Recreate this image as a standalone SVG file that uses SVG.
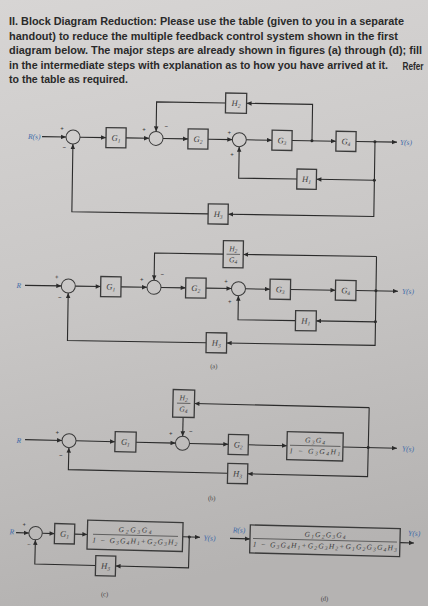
<svg xmlns="http://www.w3.org/2000/svg" width="428" height="606" viewBox="0 0 428 606">
<defs>
<linearGradient id="bg" x1="0" y1="0" x2="0.15" y2="1">
<stop offset="0" stop-color="#d7d5d4"/>
<stop offset="0.5" stop-color="#c9c7c6"/>
<stop offset="1" stop-color="#b5b3b2"/>
</linearGradient>
<marker id="ah" viewBox="0 0 10 10" refX="10" refY="5" markerWidth="5.5" markerHeight="5" markerUnits="userSpaceOnUse" orient="auto">
<path d="M0,0.5 L10,5 L0,9.5 z" fill="#2b2b2b"/>
</marker>
<style>
.ln{stroke:#2b2b2b;stroke-width:1.1;fill:none}
.ar{stroke:#2b2b2b;stroke-width:1.1;fill:none;marker-end:url(#ah)}
.bx{fill:none;stroke:#3a3a3a;stroke-width:1.3}
.sj{fill:none;stroke:#3a3a3a;stroke-width:1}
.dot{fill:#2b2b2b}
.lbl{font-family:"Liberation Serif",serif;font-style:italic;font-size:8.5px;fill:#3a3a3a;text-anchor:middle}
.fr{font-family:"Liberation Serif",serif;font-style:italic;font-size:7.5px;fill:#3a3a3a;text-anchor:middle}
.sub{font-size:5.5px}
.io{font-family:"Liberation Serif",serif;font-style:italic;font-size:7.5px;fill:#3d69a8}
.sg{font-family:"Liberation Sans",sans-serif;font-size:6px;fill:#333;text-anchor:middle}
.cap{font-family:"Liberation Serif",serif;font-size:6.5px;fill:#444;text-anchor:middle}
.hd{font-family:"Liberation Sans",sans-serif;font-weight:bold;font-size:10.6px;fill:#2a2a2a}
.bar{stroke:#3a3a3a;stroke-width:0.7}
</style>
</defs>
<rect x="0" y="0" width="428" height="606" fill="url(#bg)"/>

<g id="heading">
<text class="hd" x="9" y="25" textLength="395" lengthAdjust="spacingAndGlyphs">II. Block Diagram Reduction: Please use the table (given to you in a separate</text>
<text class="hd" x="9" y="39.6" textLength="389" lengthAdjust="spacingAndGlyphs">handout) to reduce the multiple feedback control system shown in the first</text>
<text class="hd" x="9" y="54.3" textLength="413" lengthAdjust="spacingAndGlyphs">diagram below. The major steps are already shown in figures (a) through (d); fill</text>
<text class="hd" x="9" y="69" textLength="379" lengthAdjust="spacingAndGlyphs">in the intermediate steps with explanation as to how you have arrived at it.</text>
<text class="hd" x="402.5" y="70.3" textLength="21" lengthAdjust="spacingAndGlyphs">Refer</text>
<text class="hd" x="9" y="83.2" textLength="119" lengthAdjust="spacingAndGlyphs">to the table as required.</text>
</g>

<!-- Diagram 1 -->
<g id="diagram1" transform="rotate(0.9 214 140)">
<g id="d1-connectors">
<path class="ar" d="M42,139.3 H66"/>
<path class="ar" d="M80,139.3 H106"/>
<path class="ar" d="M126,139.3 H149"/>
<path class="ar" d="M163,139.3 H188"/>
<path class="ar" d="M208,139.3 H232.3"/>
<path class="ar" d="M246.3,139.3 H272"/>
<path class="ar" d="M292,139.3 H336"/>
<path class="ar" d="M356,139.3 H397"/>
<path class="ar" d="M312,139.3 V102.8 H246"/>
<path class="ar" d="M225,102.8 H156 V132.3"/>
<path class="ar" d="M375,139.3 V214 H229.3"/>
<path class="ar" d="M375,177.7 H317"/>
<path class="ar" d="M297.5,177.7 H239.3 V146.3"/>
<path class="ar" d="M209.3,214 H73 V146.3"/>
<circle class="dot" cx="312" cy="139.3" r="1.5"/>
<circle class="dot" cx="375" cy="139.3" r="1.5"/>
<circle class="dot" cx="375" cy="177.7" r="1.5"/>
</g>
<g id="d1-R"><text class="io" x="28" y="142">R(s)</text></g>
<g id="d1-Y"><text class="io" x="400" y="142">Y(s)</text></g>
<g id="d1-sum1"><circle class="sj" cx="73" cy="139.3" r="7"/><text class="sg" x="62" y="132.8">+</text><text class="sg" x="64.5" y="152">−</text></g>
<g id="d1-G1"><rect class="bx" x="106" y="129.3" width="20" height="20"/><text class="lbl" x="116" y="142.3">G<tspan class="sub" dy="1.6">1</tspan></text></g>
<g id="d1-sum2"><circle class="sj" cx="156" cy="139.3" r="7"/><text class="sg" x="144" y="132.6">+</text><text class="sg" x="166" y="129.5">−</text></g>
<g id="d1-G2"><rect class="bx" x="188" y="129.3" width="20" height="20"/><text class="lbl" x="198" y="142.3">G<tspan class="sub" dy="1.6">2</tspan></text></g>
<g id="d1-sum3"><circle class="sj" cx="239.3" cy="139.3" r="7"/><text class="sg" x="229.3" y="134.5">+</text><text class="sg" x="232.3" y="156.2">+</text></g>
<g id="d1-G3"><rect class="bx" x="272" y="129.3" width="20" height="20"/><text class="lbl" x="282" y="142.3">G<tspan class="sub" dy="1.6">3</tspan></text></g>
<g id="d1-G4"><rect class="bx" x="336" y="129.3" width="20" height="20"/><text class="lbl" x="346" y="142.3">G<tspan class="sub" dy="1.6">4</tspan></text></g>
<g id="d1-H2"><rect class="bx" x="225" y="92.8" width="21" height="20"/><text class="lbl" x="235.5" y="105.8">H<tspan class="sub" dy="1.6">2</tspan></text></g>
<g id="d1-H1"><rect class="bx" x="297.5" y="167.7" width="19.5" height="20"/><text class="lbl" x="307.2" y="180.7">H<tspan class="sub" dy="1.6">1</tspan></text></g>
<g id="d1-H3"><rect class="bx" x="209.3" y="204" width="20" height="20"/><text class="lbl" x="219.3" y="217">H<tspan class="sub" dy="1.6">3</tspan></text></g>
</g>

<!-- Diagram (a) -->
<g id="diagramA" transform="rotate(0.9 214 288)">
<g id="da-connectors">
<path class="ar" d="M25,288.3 H61.3"/>
<path class="ar" d="M75.3,288.3 H100.7"/>
<path class="ar" d="M121,288.3 H147"/>
<path class="ar" d="M161,288.3 H185.7"/>
<path class="ar" d="M206,288.3 H231.5"/>
<path class="ar" d="M245.5,288.3 H270"/>
<path class="ar" d="M290.5,288.3 H335.5"/>
<path class="ar" d="M356,288.3 H398"/>
<path class="ar" d="M376,254 H242.7"/>
<path class="ar" d="M222.7,254 H154 V281.3"/>
<path class="ar" d="M376,254 V342.8 H227.5"/>
<path class="ar" d="M376,319.3 H316.7"/>
<path class="ar" d="M296,319.3 H238.5 V295.3"/>
<path class="ar" d="M207,342.8 H68.3 V295.3"/>
<circle class="dot" cx="376" cy="288.3" r="1.5"/>
<circle class="dot" cx="376" cy="319.3" r="1.5"/>
</g>
<g id="da-R"><text class="io" x="16.5" y="291">R</text></g>
<g id="da-Y"><text class="io" x="402" y="291">Y(s)</text></g>
<g id="da-sum1"><circle class="sj" cx="68.3" cy="288.3" r="7"/><text class="sg" x="56.7" y="281.4">+</text><text class="sg" x="60" y="301.9">−</text></g>
<g id="da-G1"><rect class="bx" x="100.7" y="278.3" width="20.3" height="20"/><text class="lbl" x="110.8" y="291.3">G<tspan class="sub" dy="1.6">1</tspan></text></g>
<g id="da-sum2"><circle class="sj" cx="154" cy="288.3" r="7"/><text class="sg" x="141.7" y="282.6">+</text><text class="sg" x="162" y="277">−</text></g>
<g id="da-H2G4"><rect class="bx" x="222.7" y="240.5" width="20" height="27"/><text class="fr" x="232.7" y="251">H<tspan class="sub" dy="1.4">2</tspan></text><line class="bar" x1="226" y1="254" x2="239.5" y2="254"/><text class="fr" x="232.7" y="262">G<tspan class="sub" dy="1.4">4</tspan></text></g>
<g id="da-G2"><rect class="bx" x="185.7" y="278.3" width="20.3" height="20"/><text class="lbl" x="195.8" y="291.3">G<tspan class="sub" dy="1.6">2</tspan></text></g>
<g id="da-sum3"><circle class="sj" cx="238.5" cy="288.3" r="7"/><text class="sg" x="226" y="283.1">+</text><text class="sg" x="230" y="303.5">+</text></g>
<g id="da-G3"><rect class="bx" x="270" y="278.3" width="20.5" height="20"/><text class="lbl" x="280.2" y="291.3">G<tspan class="sub" dy="1.6">3</tspan></text></g>
<g id="da-G4"><rect class="bx" x="335.5" y="278.3" width="20.5" height="20"/><text class="lbl" x="345.7" y="291.3">G<tspan class="sub" dy="1.6">4</tspan></text></g>
<g id="da-H1"><rect class="bx" x="296" y="309.3" width="20.7" height="20"/><text class="lbl" x="306.3" y="322.3">H<tspan class="sub" dy="1.6">1</tspan></text></g>
<g id="da-H3"><rect class="bx" x="207" y="332.8" width="20.5" height="20"/><text class="lbl" x="217.2" y="345.8">H<tspan class="sub" dy="1.6">3</tspan></text></g>
<text class="cap" x="215" y="368.3">(a)</text>
</g>

<!-- Diagram (b) -->
<g id="diagramB" transform="rotate(1.33 214 444)">
<g id="db-connectors">
<path class="ar" d="M25,444 H62"/>
<path class="ar" d="M76,444 H115"/>
<path class="ar" d="M136,444 H175.5"/>
<path class="ar" d="M189.5,444 H228.3"/>
<path class="ar" d="M248.3,444 H287"/>
<path class="ar" d="M343,444 H397"/>
<path class="ar" d="M368.3,404 H193.5"/>
<path class="ar" d="M182.5,418 V437"/>
<path class="ar" d="M368.3,404 V473 H248.3"/>
<path class="ar" d="M228.3,473 H69 V451"/>
<circle class="dot" cx="368.3" cy="444" r="1.5"/>
</g>
<g id="db-R"><text class="io" x="16.5" y="447.5">R</text></g>
<g id="db-Y"><text class="io" x="402" y="447">Y(s)</text></g>
<g id="db-sum1"><circle class="sj" cx="69" cy="444" r="7"/><text class="sg" x="57" y="438.2">+</text><text class="sg" x="61" y="461">−</text></g>
<g id="db-G1"><rect class="bx" x="115" y="434" width="21" height="20"/><text class="lbl" x="125.5" y="447">G<tspan class="sub" dy="1.6">1</tspan></text></g>
<g id="db-sum2"><circle class="sj" cx="182.5" cy="444" r="7"/><text class="sg" x="170.5" y="436.5">+</text><text class="sg" x="190.5" y="434">−</text></g>
<g id="db-H2G4"><rect class="bx" x="172" y="390.5" width="21.5" height="27.5"/><text class="fr" x="182.7" y="401">H<tspan class="sub" dy="1.4">2</tspan></text><line class="bar" x1="176" y1="404" x2="189.5" y2="404"/><text class="fr" x="182.7" y="412.3">G<tspan class="sub" dy="1.4">4</tspan></text></g>
<g id="db-G2"><rect class="bx" x="228.3" y="434" width="20" height="20"/><text class="lbl" x="238.3" y="447">G<tspan class="sub" dy="1.6">2</tspan></text></g>
<g id="db-G34"><rect class="bx" x="287" y="430" width="56" height="28"/><text class="fr" x="315" y="440.5" textLength="20">G<tspan class="sub" dy="1.4">3</tspan><tspan dy="-1.4">G</tspan><tspan class="sub" dy="1.4">4</tspan></text><line class="bar" x1="290" y1="443.5" x2="340.5" y2="443.5"/><text class="fr" x="315" y="451.5" textLength="51">1 − G<tspan class="sub" dy="1.4">3</tspan><tspan dy="-1.4">G</tspan><tspan class="sub" dy="1.4">4</tspan><tspan dy="-1.4">H</tspan><tspan class="sub" dy="1.4">1</tspan></text></g>
<g id="db-H3"><rect class="bx" x="228.3" y="463" width="20" height="20"/><text class="lbl" x="238.3" y="476">H<tspan class="sub" dy="1.6">3</tspan></text></g>
<text class="cap" x="213" y="500.3">(b)</text>
</g>

<!-- Diagrams (c) and (d) -->
<g id="diagramCD" transform="rotate(1.43 214 538)">
<g id="dc-connectors">
<path class="ar" d="M16,537.6 H28.8"/>
<path class="ar" d="M42.2,537.6 H54.5"/>
<path class="ar" d="M74.5,537.6 H87.3"/>
<path class="ar" d="M182.7,537.6 H200"/>
<path class="ar" d="M189.3,537.6 V568.5 H116.3"/>
<path class="ar" d="M96.3,568.5 H35.5 V544.3"/>
<circle class="dot" cx="189.3" cy="537.6" r="1.5"/>
</g>
<g id="dc-R"><text class="io" x="9.5" y="539.3">R</text></g>
<g id="dc-Y"><text class="io" x="203.5" y="540.8">Y(s)</text></g>
<g id="dc-sum1"><circle class="sj" cx="35.5" cy="537.6" r="6.7"/><text class="sg" x="24" y="531.2">+</text><text class="sg" x="29.3" y="551.2">−</text></g>
<g id="dc-G1"><rect class="bx" x="54.5" y="527.5" width="20" height="20"/><text class="lbl" x="64.5" y="540.5">G<tspan class="sub" dy="1.6">1</tspan></text></g>
<g id="dc-G234"><rect class="bx" x="87.3" y="523.3" width="95.4" height="29"/><text class="fr" x="135" y="534.3" textLength="33">G<tspan class="sub" dy="1.4">2</tspan><tspan dy="-1.4">G</tspan><tspan class="sub" dy="1.4">3</tspan><tspan dy="-1.4">G</tspan><tspan class="sub" dy="1.4">4</tspan></text><line class="bar" x1="93" y1="537.3" x2="178" y2="537.3"/><text class="fr" x="135" y="545.6" textLength="85">1 − G<tspan class="sub" dy="1.4">3</tspan><tspan dy="-1.4">G</tspan><tspan class="sub" dy="1.4">4</tspan><tspan dy="-1.4">H</tspan><tspan class="sub" dy="1.4">1</tspan><tspan dy="-1.4">+G</tspan><tspan class="sub" dy="1.4">2</tspan><tspan dy="-1.4">G</tspan><tspan class="sub" dy="1.4">3</tspan><tspan dy="-1.4">H</tspan><tspan class="sub" dy="1.4">2</tspan></text></g>
<g id="dc-H3"><rect class="bx" x="96.3" y="558.5" width="20" height="20"/><text class="lbl" x="106.3" y="571.5">H<tspan class="sub" dy="1.6">3</tspan></text></g>
<text class="cap" x="106" y="599">(c)</text>

<g id="dd-connectors">
<path class="ar" d="M230,538 H250"/>
<path class="ar" d="M400,538 H414"/>
</g>
<g id="dd-R"><text class="io" x="232.5" y="532">R(s)</text></g>
<g id="dd-Y"><text class="io" x="408" y="531">Y(s)</text></g>
<g id="dd-T"><rect class="bx" x="250" y="524" width="150" height="28"/><text class="fr" x="325" y="534.5" textLength="41">G<tspan class="sub" dy="1.4">1</tspan><tspan dy="-1.4">G</tspan><tspan class="sub" dy="1.4">2</tspan><tspan dy="-1.4">G</tspan><tspan class="sub" dy="1.4">3</tspan><tspan dy="-1.4">G</tspan><tspan class="sub" dy="1.4">4</tspan></text><line class="bar" x1="253" y1="537.5" x2="397" y2="537.5"/><text class="fr" x="325" y="545.8" textLength="144">1 − G<tspan class="sub" dy="1.4">3</tspan><tspan dy="-1.4">G</tspan><tspan class="sub" dy="1.4">4</tspan><tspan dy="-1.4">H</tspan><tspan class="sub" dy="1.4">1</tspan><tspan dy="-1.4">+G</tspan><tspan class="sub" dy="1.4">2</tspan><tspan dy="-1.4">G</tspan><tspan class="sub" dy="1.4">3</tspan><tspan dy="-1.4">H</tspan><tspan class="sub" dy="1.4">2</tspan><tspan dy="-1.4">+G</tspan><tspan class="sub" dy="1.4">1</tspan><tspan dy="-1.4">G</tspan><tspan class="sub" dy="1.4">2</tspan><tspan dy="-1.4">G</tspan><tspan class="sub" dy="1.4">3</tspan><tspan dy="-1.4">G</tspan><tspan class="sub" dy="1.4">4</tspan><tspan dy="-1.4">H</tspan><tspan class="sub" dy="1.4">3</tspan></text></g>
<text class="cap" x="326" y="598">(d)</text>
</g>
</svg>
